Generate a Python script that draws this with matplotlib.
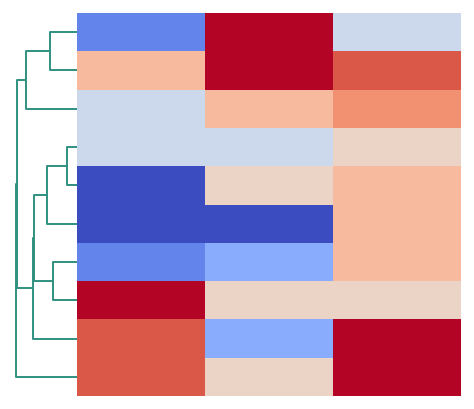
import numpy as np
import matplotlib
matplotlib.use("Agg")
import matplotlib.pyplot as plt

# heatmap values (rows in dendrogram order), scaled 0..1 for coolwarm
col_a = [0.13, 0.66, 0.44, 0.44, 0.00, 0.00, 0.13, 1.00, 0.89, 0.89]
col_b = [1.00, 1.00, 0.66, 0.44, 0.56, 0.00, 0.24, 0.56, 0.24, 0.56]
col_c = [0.44, 0.89, 0.77, 0.56, 0.66, 0.66, 0.66, 0.56, 1.00, 1.00]

# linkage: (child1, child2, height); new cluster ids start at 10
link_left = [0, 10, 3, 12, 6, 13, 15, 11, 17]
link_right = [1, 2, 4, 5, 7, 14, 8, 16, 9]
link_height = [27, 51, 10, 30, 24, 43, 44, 60, 61]

data = np.array([col_a, col_b, col_c]).T
n = data.shape[0]

fig = plt.figure(figsize=(4.74, 4.09), dpi=100)
W, H = 474, 409
ax_d = fig.add_axes([14 / W, 13 / H, 63 / W, 383 / H])
ax_h = fig.add_axes([77 / W, 13 / H, 384 / W, 383 / H])

ax_h.pcolormesh(data, cmap="coolwarm", vmin=0, vmax=1)
ax_h.set_xlim(0, data.shape[1])
ax_h.set_ylim(n, 0)
ax_h.axis("off")

# dendrogram
ypos = {i: i + 0.5 for i in range(n)}
hpos = {i: 0.0 for i in range(n)}
color = "#2f9080"
for k, (a, b, h) in enumerate(zip(link_left, link_right, link_height)):
    new = n + k
    ax_d.plot([hpos[a], h, h, hpos[b]], [ypos[a], ypos[a], ypos[b], ypos[b]],
              color=color, lw=1.4, solid_capstyle="butt")
    ypos[new] = (ypos[a] + ypos[b]) / 2
    hpos[new] = h
ax_d.set_xlim(63, 0)
ax_d.set_ylim(n, 0)
ax_d.axis("off")

fig.savefig("out.png", dpi=100)
